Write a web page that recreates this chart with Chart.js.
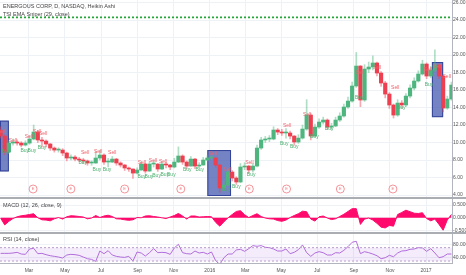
<!DOCTYPE html>
<html>
<head>
<meta charset="utf-8">
<script src="https://cdn.jsdelivr.net/npm/chart.js@4.4.1/dist/chart.umd.min.js"></script>
<style>
  html, body { margin: 0; padding: 0; background: #fff; }
  #wrap { position: relative; width: 466px; height: 275px; }
</style>
</head>
<body>
<div id="wrap"><canvas id="chart" width="466" height="275"></canvas></div>
<script>
// one candle per week, x counted in days from 2015-01-01
const firstDay = 11;
const stepDays = 7;
const firstOpen = 11.4;

const closes = [
  10.74, 8.91, 9.94, 10.06, 9.94, 9.71, 9.94, 10.4, 11.2, 10.29,
  10.17, 9.83, 9.37, 9.14, 9.14, 8.8, 8.23, 8.34, 8.11, 8.0,
  7.89, 7.66, 7.66, 8.23, 8.57, 7.77, 7.77, 8.11, 7.66, 7.43,
  7.09, 6.97, 6.51, 6.86, 7.54, 6.74, 7.54, 7.54, 6.97, 7.54,
  7.43, 7.2, 7.77, 8.46, 7.77, 7.31, 8.11, 7.31, 7.43, 8.0,
  8.23, 8.23, 7.43, 4.8, 5.14, 6.63, 5.94, 5.49, 7.2, 7.31,
  6.86, 7.31, 9.37, 10.29, 10.4, 10.4, 11.43, 11.2, 11.09, 11.09,
  10.74, 10.06, 10.51, 11.54, 13.14, 10.74, 11.77, 12.34, 12.57, 11.77,
  11.89, 12.57, 13.03, 14.06, 14.74, 16.46, 18.74, 14.86, 18.4, 18.63,
  19.09, 17.94, 16.8, 15.54, 14.29, 13.14, 14.51, 14.29, 15.31, 16.23,
  17.03, 17.83, 18.97, 17.6, 18.29, 18.86, 17.6, 13.94, 14.97, 16.57
];

const lows = [
  10.5, 8.6, 8.8, 9.7, 9.7, 9.5, 9.6, 9.8, 10.3, 10.0,
  9.5, 9.5, 9.1, 8.9, 8.9, 8.5, 7.9, 8.0, 7.9, 7.8,
  7.6, 7.4, 7.4, 7.6, 8.0, 7.5, 7.2, 7.7, 7.4, 7.2,
  6.8, 6.7, 5.9, 6.4, 6.8, 6.5, 6.7, 7.2, 6.7, 6.9,
  7.1, 6.9, 7.1, 7.7, 7.5, 7.0, 7.3, 7.0, 7.1, 7.4,
  7.9, 8.0, 7.2, 4.3, 4.5, 5.0, 5.6, 5.2, 5.4, 6.9,
  6.5, 6.6, 7.2, 9.2, 10.0, 10.1, 10.3, 10.9, 10.8, 10.5,
  10.4, 9.7, 9.9, 10.4, 11.4, 10.3, 10.6, 11.6, 12.1, 11.5,
  11.5, 11.8, 12.4, 12.9, 13.9, 14.6, 16.3, 14.1, 14.7, 18.0,
  18.3, 17.6, 16.4, 15.1, 13.9, 12.8, 13.0, 13.9, 14.1, 15.1,
  16.0, 16.9, 17.7, 17.3, 17.4, 18.1, 17.3, 13.5, 13.8, 14.8
];

const highs = [
  11.8, 10.9, 10.2, 10.4, 10.3, 10.1, 10.2, 10.8, 12.0, 11.4,
  10.6, 10.3, 9.9, 9.5, 9.4, 9.3, 8.9, 8.6, 8.5, 8.3,
  8.2, 8.0, 7.9, 9.0, 9.1, 8.7, 8.2, 8.4, 8.2, 7.8,
  7.5, 7.2, 7.0, 7.1, 7.8, 7.6, 7.8, 7.9, 7.6, 7.8,
  7.7, 7.5, 8.2, 9.5, 8.6, 7.9, 8.4, 8.2, 7.7, 8.3,
  8.5, 8.5, 8.3, 7.5, 5.6, 7.0, 6.8, 6.1, 7.6, 7.7,
  7.4, 7.6, 9.7, 10.6, 10.7, 10.8, 11.8, 11.6, 11.5, 11.6,
  11.3, 10.8, 10.9, 12.0, 14.9, 13.3, 12.1, 12.7, 12.9, 12.7,
  12.2, 12.9, 13.4, 14.4, 15.2, 16.9, 20.3, 18.8, 18.9, 19.2,
  19.9, 19.2, 18.1, 17.0, 15.7, 14.4, 14.9, 14.8, 15.6, 16.6,
  17.4, 18.2, 19.4, 19.1, 18.7, 20.6, 19.0, 17.7, 15.3, 16.9
];

const macd = [
  -0.01, -0.28, -0.14, -0.03, 0.04, 0.08, 0.1, 0.13, 0.16, 0.0,
  -0.08, -0.09, -0.12, -0.04, 0.01, -0.05, 0.04, 0.08, 0.07, 0.05,
  0.03, -0.04, -0.01, 0.09, 0.01, 0.07, 0.1, 0.05, -0.04, -0.05,
  -0.08, -0.1, -0.08, 0.01, 0.0, 0.07, 0.08, 0.05, 0.03, 0.0,
  -0.03, 0.03, 0.09, 0.17, 0.07, -0.05, 0.07, 0.07, 0.03, 0.04,
  0.05, 0.04, -0.18, -0.33, -0.16, 0.0, 0.13, 0.25, 0.28, 0.12,
  0.01, 0.09, 0.16, 0.05, -0.01, -0.04, -0.05, -0.11, -0.14, -0.09,
  0.01, 0.09, 0.16, 0.26, 0.24, -0.05, -0.13, 0.04, 0.07, -0.01,
  -0.07, -0.04, 0.05, 0.14, 0.25, 0.36, 0.36, -0.26, -0.05, -0.01,
  -0.09, -0.22, -0.37, -0.4, -0.3, -0.33, 0.13, 0.21, 0.3, 0.24,
  0.18, 0.17, 0.2, -0.03, -0.12, -0.05, -0.26, -0.49, -0.09, 0.13
];

const rsi = [
  53, 53, 53, 54, 56, 51, 50, 66, 68, 52,
  53, 49, 46, 44, 42, 39, 48, 50, 49, 47,
  42, 37, 35, 29, 60, 52, 61, 48, 44, 42,
  41, 44, 30, 57, 54, 45, 55, 67, 55, 56,
  55, 50, 69, 80, 55, 52, 51, 60, 54, 56,
  51, 57, 31, 20, 40, 51, 51, 63, 65, 59,
  67, 76, 74, 76, 71, 70, 66, 60, 60, 66,
  52, 56, 64, 78, 55, 44, 54, 58, 55, 48,
  48, 55, 54, 62, 73, 86, 89, 52, 58, 55,
  51, 46, 37, 40, 47, 43, 54, 60, 61, 65,
  66, 70, 69, 59, 67, 54, 40, 43, 51, 51
];

const monthTicks = [59, 120, 181, 243, 304, 365, 425, 486, 547, 609, 670, 731];
const monthLabels = ['Mar', 'May', 'Jul', 'Sep', 'Nov', '2016', 'Mar', 'May', 'Jul', 'Sep', 'Nov', '2017'];
const priceTicks = [4, 6, 8, 10, 12, 14, 16, 18, 20, 22, 24, 26];
const macdTicks = [-0.5, 0, 0.5];
const rsiTicks = [40, 80];

const sniperLevel = 24.3;
const rsiBand = [30, 70];

// [day, price]
const sellSignals = [
  [13, 11.2], [32, 10.17], [59, 10.63], [73, 11.2], [83, 10.97], [154, 8.8], [176, 8.91],
  [200, 8.8], [250, 7.66], [269, 7.89], [286, 7.77], [370, 8.69], [395, 6.86], [432, 7.66],
  [496, 11.89], [530, 13.14], [618, 17.94], [648, 18.51], [679, 16.23], [734, 18.29],
  [750, 18.63], [766, 17.49]
];
const buySignals = [
  [20, 8.91], [52, 9.03], [64, 9.03], [81, 9.37], [150, 7.66], [174, 6.86], [191, 6.86],
  [250, 6.06], [262, 6.06], [275, 6.17], [289, 6.29], [300, 6.29], [327, 6.86], [348, 6.86],
  [393, 4.57], [410, 4.91], [435, 6.29], [491, 9.83], [508, 9.49], [542, 10.63], [567, 11.54],
  [618, 15.09], [689, 13.94], [736, 16.57]
];
const earningsDays = [66, 130, 221, 316, 432, 495, 586, 675];
// [fromDay, toDay, low, high]
const boxes = [[10, 25, 6.7, 12.5], [361, 401, 3.89, 9.14], [741, 760, 12.9, 19.2]];

const UP = '#4fb57f';
const DOWN = '#ee3f50';
const UP_WICK = 'rgba(79, 181, 127, 0.45)';
const DOWN_WICK = 'rgba(238, 63, 80, 0.45)';
const GRID = '#eef1f6';
const TEXT = '#555';
const tickFont = { family: 'Liberation Sans', size: 5 };

const dayOf = i => firstDay + stepDays * i;
const openOf = i => (i ? closes[i - 1] : firstOpen);
const isUp = i => closes[i] >= openOf(i);

const bodyData = closes.map((c, i) => ({ x: dayOf(i), y: [openOf(i), c] }));
const wickData = closes.map((c, i) => ({ x: dayOf(i), y: [lows[i], highs[i]] }));
const macdData = macd.map((v, i) => ({ x: dayOf(i), y: v }));
const rsiData = rsi.map((v, i) => ({ x: dayOf(i), y: v }));

const fixAxis = width => scale => {
  scale.width = width;
  scale.paddingTop = 0;
  scale.paddingBottom = 0;
};

const yAxis = (ticks, digits, weight, min, max) => ({
  type: 'linear',
  position: 'right',
  stack: 'panes',
  stackWeight: weight,
  min: min,
  max: max,
  afterBuildTicks: s => { s.ticks = ticks.map(v => ({ value: v })); },
  afterFit: fixAxis(14),
  grid: { color: GRID, drawTicks: false },
  border: { color: '#b2b5be' },
  ticks: { font: tickFont, color: TEXT, padding: 1, callback: v => v.toFixed(digits) }
});

const overlayPlugin = {
  id: 'overlay',
  beforeDatasetsDraw(chart) {
    const { ctx, scales: { x, y } } = chart;
    ctx.save();
    boxes.forEach(([d0, d1, lo, hi]) => {
      const l = x.getPixelForValue(d0), r = x.getPixelForValue(d1);
      const t = y.getPixelForValue(hi), b = y.getPixelForValue(lo);
      ctx.fillStyle = 'rgba(70, 90, 175, 0.75)';
      ctx.fillRect(l, t, r - l, b - t);
      ctx.strokeStyle = '#34449a';
      ctx.lineWidth = 1;
      ctx.strokeRect(l + 0.5, t + 0.5, r - l - 1, b - t - 1);
    });
    ctx.restore();
  },
  afterDatasetsDraw(chart) {
    const { ctx, scales: { x, y } } = chart;
    ctx.save();
    ctx.font = '5px "Liberation Sans"';
    ctx.textAlign = 'center';
    ctx.textBaseline = 'middle';
    ctx.fillStyle = '#f0606a';
    sellSignals.forEach(([d, p]) => ctx.fillText('Sell', x.getPixelForValue(d), y.getPixelForValue(p)));
    ctx.fillStyle = '#4caf6e';
    buySignals.forEach(([d, p]) => ctx.fillText('Buy', x.getPixelForValue(d), y.getPixelForValue(p)));

    // earnings markers sit at the bottom of the price pane
    const cy = y.bottom - 9;
    earningsDays.forEach(d => {
      const cx = x.getPixelForValue(d);
      ctx.beginPath();
      ctx.arc(cx, cy, 4, 0, Math.PI * 2);
      ctx.fillStyle = '#fff';
      ctx.fill();
      ctx.strokeStyle = '#f07a80';
      ctx.lineWidth = 0.8;
      ctx.stroke();
      ctx.fillStyle = '#f07a80';
      ctx.font = '4px "Liberation Sans"';
      ctx.fillText('E', cx, cy + 0.3);
    });
    ctx.restore();
  },
  afterDraw(chart) {
    const { ctx, scales: { yMacd, yRsi } } = chart;
    ctx.save();
    ctx.fillStyle = '#aaadb2';
    [yMacd.top, yRsi.top].forEach(t => ctx.fillRect(0, t - 1, chart.width, 2));

    ctx.font = '5.5px "Liberation Sans"';
    ctx.textAlign = 'left';
    ctx.textBaseline = 'middle';
    ctx.fillStyle = '#444';
    ctx.fillText('ENERGOUS CORP, D, NASDAQ, Heikin Ashi', 3, 6);
    ctx.fillText('TSI EMA Sniper (29, close)', 3, 14);
    ctx.fillText('MACD (12, 26, close, 9)', 3, yMacd.top + 7);
    ctx.fillText('RSI (14, close)', 3, yRsi.top + 6);
    ctx.restore();
  }
};

new Chart(document.getElementById('chart'), {
  data: {
    datasets: [
      {
        type: 'line',
        data: [{ x: 10, y: sniperLevel }, { x: 775, y: sniperLevel }],
        yAxisID: 'y',
        borderColor: '#25a838',
        borderWidth: 1.6,
        borderDash: [2, 2],
        pointRadius: 0
      },
      {
        type: 'bar',
        data: bodyData,
        yAxisID: 'y',
        grouped: false,
        barThickness: 3.5,
        minBarLength: 1,
        backgroundColor: c => (isUp(c.dataIndex) ? UP : DOWN)
      },
      {
        type: 'bar',
        data: wickData,
        yAxisID: 'y',
        grouped: false,
        barThickness: 1,
        backgroundColor: c => (isUp(c.dataIndex) ? UP_WICK : DOWN_WICK)
      },
      {
        type: 'line',
        data: macdData,
        yAxisID: 'yMacd',
        borderColor: '#ff0a6c',
        backgroundColor: '#ff0a6c',
        borderWidth: 1,
        pointRadius: 0,
        tension: 0,
        fill: 'origin'
      },
      {
        type: 'line',
        data: [{ x: 10, y: rsiBand[1] }, { x: 775, y: rsiBand[1] }],
        yAxisID: 'yRsi',
        borderColor: '#b9a0cc',
        borderWidth: 1,
        borderDash: [2, 2],
        pointRadius: 0
      },
      {
        type: 'line',
        data: [{ x: 10, y: rsiBand[0] }, { x: 775, y: rsiBand[0] }],
        yAxisID: 'yRsi',
        borderColor: '#b9a0cc',
        borderWidth: 1,
        borderDash: [2, 2],
        pointRadius: 0,
        fill: '-1',
        backgroundColor: 'rgba(170, 110, 220, 0.13)'
      },
      {
        type: 'line',
        data: rsiData,
        yAxisID: 'yRsi',
        borderColor: '#b26ddc',
        borderWidth: 1,
        pointRadius: 0,
        tension: 0
      }
    ]
  },
  options: {
    responsive: false,
    animation: false,
    layout: { padding: 0 },
    plugins: { legend: { display: false }, tooltip: { enabled: false } },
    scales: {
      x: {
        type: 'linear',
        min: 10,
        max: 775,
        offset: false,
        afterBuildTicks: s => { s.ticks = monthTicks.map(v => ({ value: v })); },
        afterFit: s => { s.height = 12; s.paddingLeft = 0; s.paddingRight = 0; },
        grid: { color: GRID, drawTicks: false, offset: false },
        border: { color: '#b2b5be' },
        ticks: {
          font: tickFont,
          color: TEXT,
          padding: 5,
          autoSkip: false,
          maxRotation: 0,
          callback: v => monthLabels[monthTicks.indexOf(v)]
        }
      },
      y: yAxis(priceTicks, 2, 198, 3.66, 26.29),
      yMacd: yAxis(macdTicks, 4, 35, -0.6, 0.78),
      yRsi: yAxis(rsiTicks, 4, 30, 24.2, 113.7)
    }
  },
  plugins: [overlayPlugin]
});
</script>
</body>
</html>
